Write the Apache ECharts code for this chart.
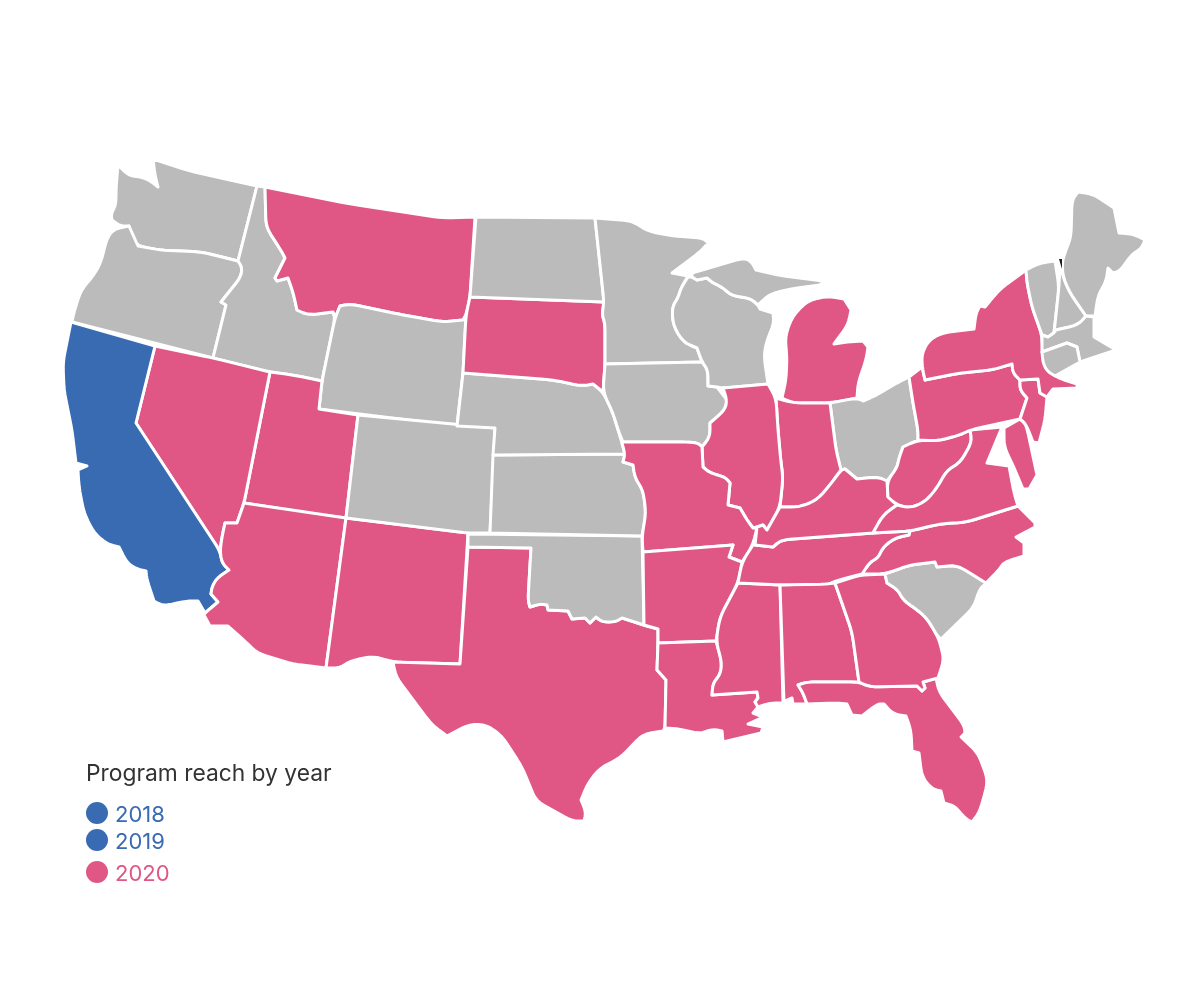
<!DOCTYPE html>
<html>
<head>
<meta charset="utf-8">
<title>Program reach by year</title>
<script src="https://cdn.jsdelivr.net/npm/echarts@6/dist/echarts.min.js"></script>
<style>
  html, body { margin: 0; padding: 0; background: #fff; }
  #main { width: 1200px; height: 1000px; }
</style>
</head>
<body>
<div id="main"></div>
<script>
// which states were reached in which year
const years = ['2018', '2019', '2020'];
const states2018 = ['California'];
const states2019 = ['California'];
const states2020 = ['Montana', 'Nevada', 'Utah', 'Arizona', 'New Mexico', 'Texas', 'South Dakota', 'Missouri',
    'Arkansas', 'Louisiana', 'Illinois', 'Indiana', 'Michigan', 'Kentucky', 'Tennessee', 'Mississippi', 'Alabama',
    'Georgia', 'Florida', 'North Carolina', 'Virginia', 'West Virginia', 'Pennsylvania', 'New York', 'New Jersey',
    'Delaware'];
const statesOther = ['Washington', 'Oregon', 'Idaho', 'Wyoming', 'Colorado', 'North Dakota', 'Nebraska', 'Kansas',
    'Oklahoma', 'Minnesota', 'Iowa', 'Wisconsin', 'Upper Peninsula', 'Ohio', 'South Carolina', 'Vermont',
    'New Hampshire', 'Maine', 'Massachusetts', 'Connecticut'];
const statesBlack = ['Sliver'];

// outlines, in its own x,y
const outlines = {
    'Washington': [[118,165],[123,170],[130,176],[142,177],[152,182],[158,187],[155,175],[153,159],[190,171],[257,186],[238,261],[202,252],[160,250],[138,246],[130,238],[129,226],[120,226],[112,220],[111,214],[116,205],[116,188]],
    'Oregon': [[129,226],[138,246],[160,250],[202,252],[238,261],[242,267],[241,277],[221,302],[226,305],[213,358],[72,322],[74,312],[81,290],[94,275],[101,262],[107,238],[114,229]],
    'Idaho': [[257,186],[265,187],[266,227],[282,252],[285,258],[275,278],[277,281],[288,278],[293,292],[297,310],[308,315],[333,312],[335,318],[322,381],[293,375],[270,372],[213,358],[226,305],[221,302],[241,277],[242,267],[238,261]],
    'Montana': [[265,187],[350,204],[443,218],[475,217],[470,297],[466,315],[463,320],[443,322],[403,315],[350,304],[340,306],[335,318],[333,312],[308,315],[297,310],[293,292],[288,278],[277,281],[275,278],[285,258],[282,252],[266,227]],
    'Wyoming': [[335,318],[340,306],[350,304],[403,315],[443,322],[463,320],[466,315],[463,373],[457,426],[319,409],[322,381]],
    'Utah': [[270,372],[293,375],[322,381],[319,409],[358,415],[346,518],[320,515],[244,503]],
    'Nevada': [[155,346],[213,358],[270,372],[244,503],[237,523],[225,523],[222,537],[220,551],[136,423]],
    'California': [[71,322],[155,346],[136,423],[220,551],[222,563],[229,570],[217,578],[212,587],[211,594],[218,602],[205,613],[198,601],[187,601],[163,606],[154,601],[147,580],[146,571],[137,569],[127,563],[119,547],[107,544],[94,533],[84,513],[79,487],[78,470],[87,466],[76,463],[72,430],[64,390],[63,362]],
    'Arizona': [[244,503],[346,518],[326,668],[293,664],[257,653],[248,644],[228,626],[210,626],[204,615],[205,613],[218,602],[211,594],[212,587],[217,578],[229,570],[222,563],[220,551],[222,537],[225,523],[237,523]],
    'New Mexico': [[346,518],[468,533],[460,664],[393,662],[373,656],[350,661],[340,668],[326,668]],
    'Texas': [[468,547],[531,548],[528,600],[530,607],[540,604],[547,605],[548,610],[568,611],[572,619],[585,618],[590,623],[596,617],[602,622],[615,622],[622,618],[643,625],[658,629],[658,643],[657,670],[666,680],[665,728],[663,731],[643,734],[620,758],[600,768],[588,783],[581,800],[586,812],[584,821],[572,821],[536,801],[522,767],[502,736],[487,725],[470,724],[447,736],[432,725],[396,677],[393,662],[460,664]],
    'Colorado': [[358,415],[495,428],[490,533],[468,533],[346,518]],
    'Oklahoma': [[468,534],[642,536],[644,625],[622,618],[615,622],[602,622],[596,617],[590,623],[585,618],[572,619],[568,611],[548,610],[547,605],[540,604],[530,607],[528,600],[531,548],[468,547]],
    'Kansas': [[493,455],[625,454],[623,462],[633,465],[635,478],[643,490],[646,513],[642,536],[490,533]],
    'Nebraska': [[463,373],[553,380],[582,386],[593,384],[603,392],[613,413],[618,430],[622,443],[625,454],[493,455],[495,428],[457,426]],
    'South Dakota': [[470,297],[604,302],[602,315],[605,323],[605,364],[603,392],[593,384],[582,386],[553,380],[463,373],[466,315]],
    'North Dakota': [[476,217],[595,218],[604,302],[470,297]],
    'Minnesota': [[595,218],[633,221],[647,231],[673,236],[703,238],[708,243],[700,252],[672,273],[688,276],[681,288],[678,298],[672,307],[673,325],[683,342],[697,348],[702,362],[605,364],[605,323],[602,315],[604,302]],
    'Iowa': [[605,364],[702,362],[708,370],[708,386],[717,387],[727,400],[725,410],[710,423],[710,437],[702,447],[698,443],[687,442],[623,442],[618,430],[613,413],[603,392]],
    'Wisconsin': [[688,277],[692,277],[697,280],[707,278],[713,283],[722,287],[732,296],[750,298],[758,305],[760,309],[773,313],[774,323],[766,343],[764,357],[768,384],[723,388],[717,387],[708,386],[708,370],[702,362],[697,348],[683,342],[673,325],[672,307],[678,298],[681,288]],
    'Upper Peninsula': [[692,273],[743,258],[751,261],[756,270],[777,275],[823,281],[820,285],[790,289],[770,294],[760,303],[758,305],[750,298],[732,296],[722,287],[713,283],[707,278],[697,280],[692,277]],
    'Michigan': [[782,398],[786,380],[787,357],[785,337],[792,317],[807,301],[827,296],[844,299],[851,310],[848,325],[834,344],[847,342],[863,341],[868,347],[866,360],[858,383],[857,398],[830,403],[793,403]],
    'Ohio': [[830,403],[857,398],[863,401],[877,395],[893,385],[909,377],[913,403],[918,430],[918,440],[903,447],[899,458],[897,468],[887,481],[878,477],[857,479],[845,469],[841,470],[836,450]],
    'Indiana': [[776,398],[793,403],[830,403],[836,450],[841,470],[830,485],[817,500],[800,507],[780,507],[783,477],[781,463],[778,430]],
    'Illinois': [[723,388],[768,384],[776,398],[778,430],[781,463],[783,477],[780,507],[767,530],[763,525],[757,527],[753,528],[747,520],[740,508],[728,505],[730,483],[725,477],[710,473],[703,467],[702,447],[710,437],[710,423],[725,410],[727,400]],
    'Missouri': [[623,442],[687,442],[698,443],[702,447],[703,467],[710,473],[725,477],[730,483],[728,505],[740,508],[747,520],[753,528],[757,527],[753,545],[742,562],[729,557],[733,545],[643,552],[642,536],[646,513],[643,490],[635,478],[633,465],[623,462],[625,454],[622,443]],
    'Arkansas': [[643,552],[733,545],[729,557],[742,562],[738,583],[720,617],[716,641],[658,643],[658,629],[644,625]],
    'Louisiana': [[658,643],[716,641],[722,663],[720,675],[713,683],[712,695],[757,692],[758,698],[755,702],[758,707],[753,713],[763,717],[748,724],[763,727],[761,733],[723,742],[722,731],[712,729],[700,734],[680,729],[665,728],[666,680],[657,670]],
    'Mississippi': [[738,583],[780,585],[783,703],[770,703],[758,707],[755,702],[758,698],[757,692],[712,695],[713,683],[720,675],[722,663],[716,641],[720,617]],
    'Alabama': [[780,585],[835,583],[852,632],[859,682],[807,682],[798,685],[803,693],[807,704],[793,704],[792,698],[785,701],[783,703]],
    'Florida': [[798,685],[807,682],[859,682],[870,687],[917,686],[922,691],[925,688],[923,682],[936,678],[939,692],[964,725],[965,733],[961,737],[978,753],[988,780],[984,797],[979,813],[972,822],[966,819],[957,809],[954,806],[944,803],[941,791],[932,789],[922,777],[919,753],[912,751],[911,730],[906,716],[893,714],[884,704],[877,704],[862,716],[852,715],[847,704],[837,703],[807,704],[803,693]],
    'Georgia': [[835,583],[860,575],[885,574],[887,583],[898,590],[903,600],[920,612],[928,620],[938,637],[941,647],[944,660],[938,678],[923,682],[925,688],[922,691],[917,686],[870,687],[859,682],[852,632]],
    'South Carolina': [[885,574],[910,565],[935,562],[937,567],[957,565],[986,583],[979,590],[974,607],[941,639],[938,637],[928,620],[920,612],[903,600],[898,590],[887,583]],
    'North Carolina': [[910,531],[940,524],[967,522],[1018,506],[1035,523],[1035,527],[1016,537],[1024,543],[1024,556],[1004,562],[999,570],[986,583],[957,565],[937,567],[935,562],[910,565],[885,574],[862,574],[870,562],[878,558],[883,547],[895,538],[909,535]],
    'Tennessee': [[755,545],[773,547],[781,540],[873,533],[910,531],[909,535],[895,538],[883,547],[878,558],[870,562],[862,574],[835,581],[830,584],[780,585],[738,583],[742,562],[753,545]],
    'Kentucky': [[757,527],[763,525],[767,530],[780,507],[800,507],[817,500],[830,485],[841,470],[845,469],[857,479],[878,477],[887,481],[888,497],[897,505],[883,515],[873,533],[781,540],[773,547],[755,545]],
    'West Virginia': [[887,481],[897,468],[899,458],[903,447],[918,440],[937,441],[960,435],[970,430],[972,442],[960,463],[947,470],[937,488],[925,502],[910,508],[897,505],[888,497]],
    'Virginia': [[873,533],[883,515],[897,505],[910,508],[925,502],[937,488],[947,470],[960,463],[972,442],[970,430],[1002,427],[987,463],[1009,466],[1014,493],[1018,506],[967,522],[940,524],[910,531]],
    'Delaware': [[1004,428],[1020,419],[1026,424],[1037,475],[1029,489],[1023,489],[1012,463],[1004,447]],
    'Pennsylvania': [[909,377],[922,367],[925,380],[960,373],[992,370],[1012,364],[1013,373],[1020,380],[1020,390],[1027,398],[1020,419],[970,430],[960,435],[937,441],[918,440],[918,430],[913,403]],
    'New Jersey': [[1020,380],[1038,379],[1040,393],[1047,397],[1045,420],[1039,443],[1033,442],[1026,424],[1020,419],[1027,398],[1020,390]],
    'New York': [[1026,270],[1000,289],[985,307],[980,306],[976,313],[974,329],[942,333],[929,340],[922,353],[922,366],[925,380],[960,373],[992,370],[1012,364],[1013,373],[1020,380],[1038,379],[1040,393],[1047,397],[1053,389],[1077,388],[1077,384],[1055,377],[1043,363],[1042,335],[1032,307],[1027,283]],
    'Vermont': [[1026,270],[1040,263],[1055,261],[1059,287],[1054,333],[1048,337],[1042,335],[1032,307],[1027,283]],
    'New Hampshire': [[1060,262],[1063,277],[1070,293],[1086,316],[1078,325],[1056,330],[1054,333],[1059,287]],
    'Maine': [[1078,192],[1093,194],[1114,208],[1119,233],[1133,234],[1145,240],[1141,249],[1132,254],[1120,271],[1113,273],[1108,268],[1106,282],[1098,295],[1095,316],[1086,316],[1070,293],[1063,277],[1062,262],[1066,250],[1071,237],[1072,200]],
    'Massachusetts': [[1042,335],[1048,337],[1054,333],[1056,330],[1078,325],[1086,316],[1094,317],[1094,337],[1116,350],[1080,362],[1077,347],[1067,343],[1042,352]],
    'Connecticut': [[1042,352],[1067,343],[1077,347],[1080,362],[1055,376],[1047,371],[1043,363]],
    'Sliver': [[1059,259],[1062,259],[1062,269]]
};

const colors = { blue: '#396bb3', pink: '#e05785', gray: '#bbbbbb', black: '#1a1a1a' };
const yearColors = [colors.blue, colors.blue, colors.pink];
const legendTops = [802, 829, 861];

// the traced points are straight segments, round off the shallow bends and leave real corners alone
function softenRing(ring) {
    const out = [];
    const n = ring.length;
    ring.forEach((p, i) => {
        const a = ring[(i + n - 1) % n], b = ring[(i + 1) % n];
        const la = Math.hypot(a[0] - p[0], a[1] - p[1]), lb = Math.hypot(b[0] - p[0], b[1] - p[1]);
        const cos = ((p[0] - a[0]) * (b[0] - p[0]) + (p[1] - a[1]) * (b[1] - p[1])) / (la * lb);
        if (cos < 0.75) { out.push(p); return; }
        const ca = Math.min(la / 2, 9) / la, cb = Math.min(lb / 2, 9) / lb;
        const s = [p[0] + (a[0] - p[0]) * ca, p[1] + (a[1] - p[1]) * ca];
        const e = [p[0] + (b[0] - p[0]) * cb, p[1] + (b[1] - p[1]) * cb];
        for (let t = 0; t <= 1.001; t += 0.25) {
            const u = 1 - t;
            out.push([u * u * s[0] + 2 * u * t * p[0] + t * t * e[0], u * u * s[1] + 2 * u * t * p[1] + t * t * e[1]]);
        }
    });
    return out;
}

const rings = {};
Object.keys(outlines).forEach((name) => { rings[name] = softenRing(outlines[name]); });

const features = Object.keys(rings).map((name) => ({
    type: 'Feature',
    properties: { name: name },
    geometry: { type: 'Polygon', coordinates: [rings[name].concat([rings[name][0]])] }
}));
echarts.registerMap('usa', { type: 'FeatureCollection', features: features });

// bounding box of the outlines, so the map lands 1:1 on the page
let xs = [], ys = [];
Object.values(rings).forEach((ring) => ring.forEach((p) => { xs.push(p[0]); ys.push(p[1]); }));
const minX = Math.min(...xs), maxX = Math.max(...xs), minY = Math.min(...ys), maxY = Math.max(...ys);

const region = (name, color) => ({ name: name, itemStyle: { areaColor: color } });
const regions = [
    ...statesOther.map((n) => region(n, colors.gray)),
    ...states2020.map((n) => region(n, colors.pink)),
    ...states2018.concat(states2019).map((n) => region(n, colors.blue)),
    ...statesBlack.map((n) => ({ name: n, itemStyle: { areaColor: colors.black, borderWidth: 0 } }))
];

const fontFamily = 'Inter, "Noto Sans", sans-serif';
const chart = echarts.init(document.getElementById('main'));
chart.setOption({
    animation: false,
    backgroundColor: '#fff',
    title: {
        text: 'Program reach by year',
        left: 81,
        top: 758,
        textStyle: { fontFamily: fontFamily, fontSize: 22.8, fontWeight: 400, color: '#333' }
    },
    legend: years.map((y, i) => ({
        data: [y],
        left: 86,
        top: legendTops[i],
        padding: 0,
        icon: 'circle',
        itemWidth: 22,
        itemHeight: 22,
        selectedMode: false,
        formatter: '{t|{name}}',
        textStyle: {
            rich: { t: { fontFamily: fontFamily, fontSize: 22, color: yearColors[i], padding: [5, 0, 0, 2] } }
        }
    })),
    geo: {
        map: 'usa',
        projection: { project: (p) => [p[0], p[1]], unproject: (p) => [p[0], p[1]] },
        left: minX,
        top: minY,
        width: maxX - minX,
        height: maxY - minY,
        roam: false,
        silent: true,
        label: { show: false },
        itemStyle: { areaColor: colors.gray, borderColor: '#fff', borderWidth: 3, borderJoin: 'round' },
        regions: regions
    },
    // empty series, they only give the legend its entries
    series: years.map((y, i) => ({
        name: y,
        type: 'scatter',
        coordinateSystem: 'geo',
        itemStyle: { color: yearColors[i], opacity: 1 },
        data: []
    }))
});
</script>
</body>
</html>
